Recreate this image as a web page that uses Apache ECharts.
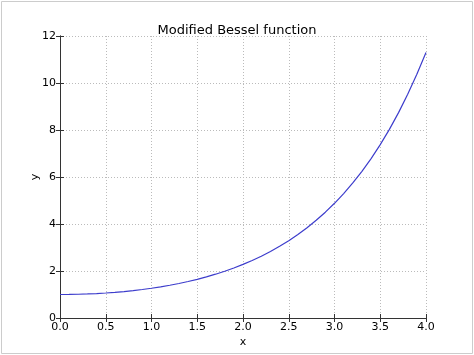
<!DOCTYPE html>
<html><head><meta charset="utf-8">
<script src="https://cdn.jsdelivr.net/npm/echarts@6/dist/echarts.min.js"></script>
<style>html,body{margin:0;padding:0;background:#fff}#c{width:474px;height:355px}</style>
</head><body><div id="c"></div>
<script>
const xValues = [0.0,0.1,0.2,0.3,0.4,0.5,0.6,0.7,0.8,0.9,1.0,1.1,1.2,1.3,1.4,1.5,1.6,1.7,1.8,1.9,2.0,2.1,2.2,2.3,2.4,2.5,2.6,2.7,2.8,2.9,3.0,3.1,3.2,3.3,3.4,3.5,3.6,3.7,3.8,3.9,4.0];
const yValues = [1.000,1.003,1.010,1.023,1.040,1.064,1.092,1.126,1.167,1.213,1.266,1.326,1.394,1.469,1.553,1.647,1.750,1.864,1.990,2.128,2.280,2.446,2.629,2.830,3.049,3.290,3.553,3.842,4.157,4.503,4.881,5.295,5.747,6.243,6.785,7.378,8.028,8.739,9.517,10.369,11.302];
const titleText = 'Modified Bessel function';
const xName = 'x', yName = 'y';

const chart = echarts.init(document.getElementById('c'), null, {renderer:'canvas'});
const font = 'DejaVu Sans';
const lineStyleAxis = {color:'#333', width:1};
const gridLine = {color:'#bbb', type:[1,2], width:1};
const grid = {left:60, right:48, top:36, bottom:37};
chart.setOption({
  animation:false,
  backgroundColor:'#fff',
  title:{text:titleText, left:'center', top:19, textStyle:{fontFamily:font, fontSize:13, fontWeight:'normal', color:'#000'}},
  grid:grid,
  graphic:[{type:'rect', shape:{x:1.5,y:1.5,width:471,height:352}, style:{fill:'none', stroke:'#ccc', lineWidth:1}, silent:true}],
  xAxis:[{
    type:'value', min:0, max:4, interval:0.5, position:'bottom',
    name:xName, nameLocation:'middle', nameGap:19, nameMoveOverlap:false, nameTextStyle:{fontFamily:font, fontSize:11, color:'#000'},
    axisLine:{show:true, lineStyle:lineStyleAxis},
    axisTick:{show:true, inside:true, length:4, lineStyle:lineStyleAxis},
    axisLabel:{fontFamily:font, fontSize:11, color:'#000', margin:4, formatter:v=>v.toFixed(1)},
    splitLine:{show:true, lineStyle:gridLine}
  },{
    type:'value', min:0, max:4, interval:0.5, position:'top',
    axisLine:{show:true, lineStyle:lineStyleAxis},
    axisTick:{show:true, inside:true, length:4, lineStyle:lineStyleAxis},
    axisLabel:{show:false}, splitLine:{show:false}
  }],
  yAxis:[{
    type:'value', min:0, max:12, interval:2, position:'left',
    name:yName, nameLocation:'middle', nameGap:19, nameMoveOverlap:false, nameTextStyle:{fontFamily:font, fontSize:11, color:'#000'},
    axisLine:{show:true, lineStyle:lineStyleAxis},
    axisTick:{show:true, inside:true, length:4, lineStyle:lineStyleAxis},
    axisLabel:{fontFamily:font, fontSize:11, color:'#000', margin:4},
    splitLine:{show:true, lineStyle:gridLine}
  },{
    type:'value', min:0, max:12, interval:2, position:'right',
    axisLine:{show:true, lineStyle:lineStyleAxis},
    axisTick:{show:true, inside:true, length:4, lineStyle:lineStyleAxis},
    axisLabel:{show:false}, splitLine:{show:false}
  }],
  series:[{
    type:'line', xAxisIndex:0, yAxisIndex:0,
    data:xValues.map((x,i)=>[x,yValues[i]]),
    showSymbol:false, smooth:false,
    lineStyle:{color:'#3d3dcc', width:1.2}
  }]
});
</script></body></html>
